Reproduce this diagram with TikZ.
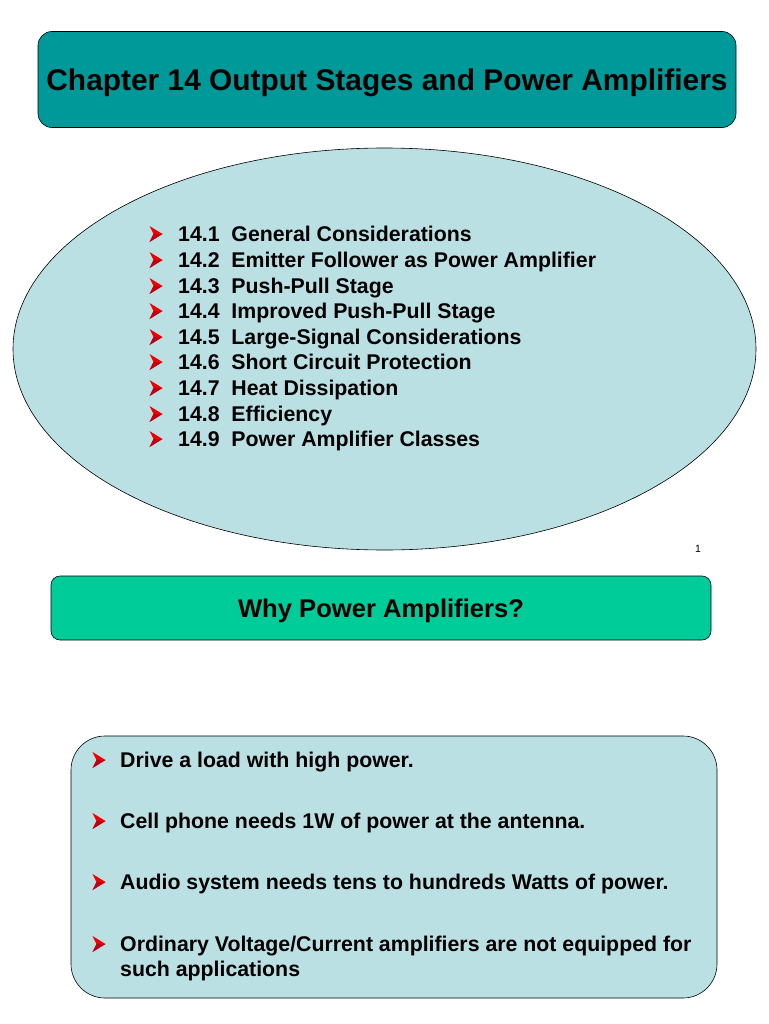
\documentclass[tikz,border=0pt]{standalone}
\usepackage{fontspec}
\setmainfont{Liberation Sans}
\usetikzlibrary{shapes.geometric,calc}
\definecolor{teal1}{RGB}{0,153,153}
\definecolor{green1}{RGB}{0,204,153}
\definecolor{pale}{RGB}{187,224,227}
\definecolor{darkred}{RGB}{190,0,20}
\newcommand{\bul}[2]{%
 \fill[red!95!black] ({#1-6.5},{#2-8}) -- ({#1+6.5},{#2}) -- ({#1-6.5},{#2+8}) -- ({#1-2.5},{#2}) -- cycle;
 \fill[darkred] ({#1-2.5},{#2}) -- ({#1+6.5},{#2}) -- ({#1-6.5},{#2+8}) -- cycle;}
\tikzset{
 panel/.style={draw=black,line width=0.6pt,rounded corners=#1},
 item/.style={anchor=base west,inner sep=0pt,font=\fontsize{21.3pt}{25pt}\selectfont\bfseries,text=black},
}
\begin{document}
\begin{tikzpicture}[x=1pt,y=-1pt]
\useasboundingbox (0,0) rectangle (768,1024);
\node[panel=14pt,fill=teal1,minimum width=698pt,minimum height=96pt,inner sep=0pt] (title) at (387,79.5) {};
\node[anchor=base,inner sep=0pt,font=\fontsize{29.9pt}{34pt}\selectfont\bfseries] (titlet) at (387,91) {Chapter 14 Output Stages and Power Amplifiers};
\node[draw=black,line width=0.6pt,ellipse,fill=pale,minimum width=743pt,minimum height=402pt,inner sep=0pt] (ell) at (384.5,349) {};
\foreach \n/\t/\y in {a/{14.1\ \ General Considerations}/234,b/{14.2\ \ Emitter Follower as Power Amplifier}/260,c/{14.3\ \ Push-Pull Stage}/286,d/{14.4\ \ Improved Push-Pull Stage}/311,e/{14.5\ \ Large-Signal Considerations}/337,f/{14.6\ \ Short Circuit Protection}/362,g/{14.7\ \ Heat Dissipation}/388,h/{14.8\ \ Efficiency}/414,i/{14.9\ \ Power Amplifier Classes}/439}{
 \node[item] (\n) at (178,\y+7.5) {\t};
 \bul{156}{\y}
}
\node[inner sep=0pt,font=\fontsize{10.5pt}{12pt}\selectfont] (pg) at (698,549) {1};
\node[panel=9pt,fill=green1,minimum width=660pt,minimum height=64pt,inner sep=0pt] (why) at (381,608) {};
\node[anchor=base,inner sep=0pt,font=\fontsize{25.6pt}{30pt}\selectfont\bfseries] (whyt) at (381,617) {Why Power Amplifiers?};
\node[panel=34pt,fill=pale,minimum width=646pt,minimum height=262pt,inner sep=0pt] (box) at (394,867) {};
\foreach \n/\t/\y in {p/{Drive a load with high power.}/760,q/{Cell phone needs 1W of power at the antenna.}/821,r/{Audio system needs tens to hundreds Watts of power.}/882,s/{Ordinary Voltage/Current amplifiers are not equipped for}/944,t/{such applications}/969}{
 \node[item] (\n) at (120,\y+7.5) {\t};
}
\bul{99}{760}\bul{99}{821}\bul{99}{882}\bul{99}{944}
\end{tikzpicture}
\end{document}
